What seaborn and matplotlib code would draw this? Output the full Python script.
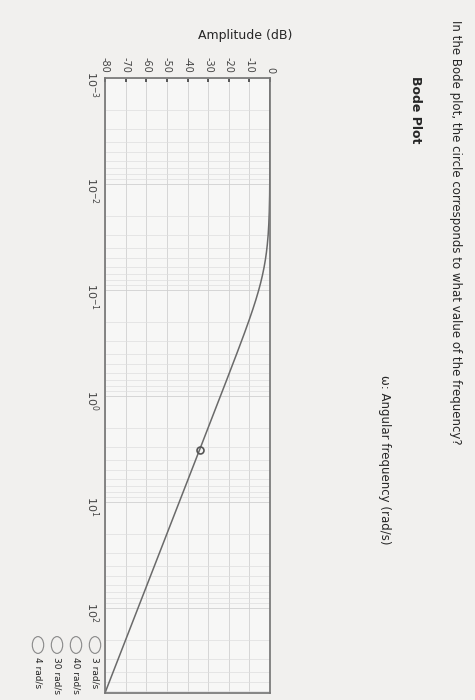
import numpy as np
import matplotlib
matplotlib.use("Agg")
import matplotlib.pyplot as plt
import seaborn as sns
from matplotlib.patches import Circle

# data read from the (rotated) photo
freq_decades = [-3, -2, -1, 0, 1, 2]
amp_ticks = [0, -10, -20, -30, -40, -50, -60, -70, -80]
corner_freq = 0.063          # rad/s, first-order low pass
marker_freq = 3.2            # rad/s, the circle on the curve
options = ["3 rad/s", "40 rad/s", "30 rad/s", "4 rad/s"]
question = "In the Bode plot, the circle corresponds to what value of the frequency?"

w = np.logspace(-3, 2.8, 400)
amp = -10 * np.log10(1 + (w / corner_freq) ** 2)
amp_marker = -10 * np.log10(1 + (marker_freq / corner_freq) ** 2)

sns.set_theme(style="white")
plt.rcParams['font.family'] = ['DejaVu Sans']
fig = plt.figure(figsize=(4.75, 7), dpi=100, facecolor="#f1f0ee")

# plot is drawn rotated: amplitude runs left->right, frequency top->bottom
ax = fig.add_axes([105 / 475, 7 / 700, 165 / 475, 615 / 700])
ax.set_facecolor("#f7f7f6")
sns.lineplot(x=amp, y=w, ax=ax, color="#6a6a6a", lw=1.1, sort=False)
ax.plot([amp_marker], [marker_freq], marker="o", ms=5, mfc="none", mec="#555", mew=1.2)
ax.set_yscale("log")
ax.set_ylim(10 ** 2.8, 1e-3)
ax.set_xlim(-80, 0)
ax.set_xticks(amp_ticks)
ax.set_xticklabels([str(a) for a in amp_ticks], rotation=-90, fontsize=7)
ax.xaxis.tick_top()
ax.set_yticks([10.0 ** d for d in freq_decades])
ax.set_yticklabels([f"$10^{{{d}}}$" for d in freq_decades], rotation=-90, fontsize=8)
ax.grid(True, which="major", color="#d0d0d0", lw=0.6)
ax.grid(True, which="minor", axis="y", color="#dedede", lw=0.5)
ax.tick_params(which="both", direction="in", length=3, colors="#444")
for s in ax.spines.values():
    s.set_color("#777")

fig.text(245 / 475, 1 - 35 / 700, "Amplitude (dB)", fontsize=9, ha="center", va="center")
fig.text(415 / 475, 1 - 110 / 700, "Bode Plot", fontsize=9, weight="bold", rotation=-90, ha="center", va="center")
fig.text(385 / 475, 1 - 460 / 700, "ω: Angular frequency (rad/s)", fontsize=8.5, rotation=-90, ha="center", va="center")
fig.text(455 / 475, 1 - 20 / 700, question, fontsize=8.5, rotation=-90, ha="center", va="top")

for i, opt in enumerate(options):
    xp = (95 - 19 * i) / 475
    fig.patches.append(Circle((xp, 1 - 645 / 700), 0.012, transform=fig.transFigure,
                              fill=False, ec="#888", lw=0.8))
    fig.text(xp, 1 - 657 / 700, opt, fontsize=6.5, rotation=-90, ha="center", va="top")

fig.savefig("out.png", dpi=100, facecolor=fig.get_facecolor())
